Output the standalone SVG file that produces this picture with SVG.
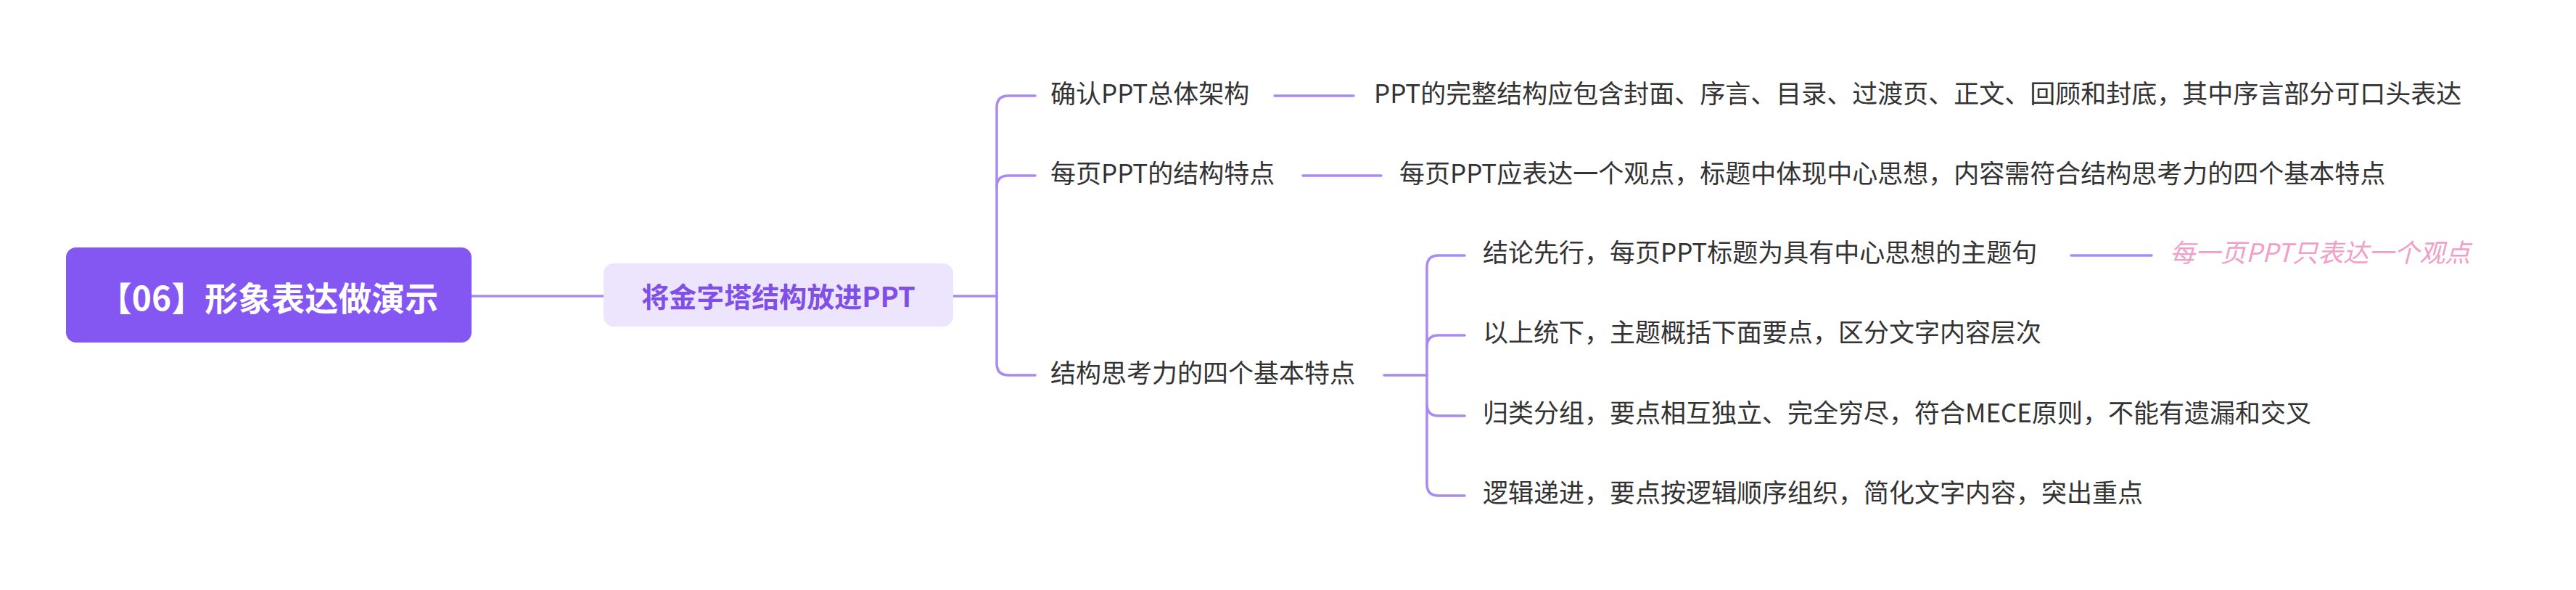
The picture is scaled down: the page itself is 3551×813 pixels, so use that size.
<svg xmlns="http://www.w3.org/2000/svg" width="3551" height="813" viewBox="0 0 3551 813">
<style>
.c{fill:none;stroke:#A98AF0;stroke-width:3.5;stroke-linecap:round}
.t{font-family:"Noto Sans CJK SC","Liberation Sans",sans-serif;font-size:35px;fill:#333;dominant-baseline:central}
</style>
<rect width="3551" height="813" fill="#fff"/>
<g id="connectors">
<path class="c" d="M650,408 H832"/>
<path class="c" d="M1314,408 H1374"/>
<path class="c" d="M1427,132 H1390 Q1374,132 1374,148 V501 Q1374,517 1390,517 H1427"/>
<path class="c" d="M1374,258 Q1374,242 1390,242 H1427"/>
<path class="c" d="M1757,132 H1866"/>
<path class="c" d="M1796,242 H1904"/>
<path class="c" d="M1908,517 H1967"/>
<path class="c" d="M2019,352 H1983 Q1967,352 1967,368 V667 Q1967,683 1983,683 H2019"/>
<path class="c" d="M1967,478 Q1967,462 1983,462 H2019"/>
<path class="c" d="M1967,557 Q1967,573 1983,573 H2019"/>
<path class="c" d="M2855,352 H2966"/>
</g>
<g id="root">
<rect x="91" y="341" width="559" height="131" rx="14" fill="#8456F2"/>
<text x="370" y="408" text-anchor="middle" class="t" style="font-size:46px;font-weight:bold;fill:#fff">【06】形象表达做演示</text>
</g>
<g id="main">
<rect x="832" y="363" width="482" height="87" rx="14" fill="#EDE4FD"/>
<text x="1073" y="406" text-anchor="middle" class="t" style="font-size:38px;font-weight:bold;fill:#7F4FE6">将金字塔结构放进PPT</text>
</g>
<g id="b1"><text x="1448" y="126" class="t">确认PPT总体架构</text></g>
<g id="b1d"><text x="1894" y="126" class="t">PPT的完整结构应包含封面、序言、目录、过渡页、正文、回顾和封底，其中序言部分可口头表达</text></g>
<g id="b2"><text x="1448" y="236" class="t">每页PPT的结构特点</text></g>
<g id="b2d"><text x="1929" y="236" class="t">每页PPT应表达一个观点，标题中体现中心思想，内容需符合结构思考力的四个基本特点</text></g>
<g id="b3"><text x="1448" y="511" class="t">结构思考力的四个基本特点</text></g>
<g id="c1"><text x="2044" y="345" class="t">结论先行，每页PPT标题为具有中心思想的主题句</text></g>
<g id="c1n"><text x="2991" y="345" class="t" style="fill:#F19EC8;font-style:italic">每一页PPT只表达一个观点</text></g>
<g id="c2"><text x="2044" y="455" class="t">以上统下，主题概括下面要点，区分文字内容层次</text></g>
<g id="c3"><text x="2044" y="566" class="t">归类分组，要点相互独立、完全穷尽，符合MECE原则，不能有遗漏和交叉</text></g>
<g id="c4"><text x="2044" y="676" class="t">逻辑递进，要点按逻辑顺序组织，简化文字内容，突出重点</text></g>
</svg>
